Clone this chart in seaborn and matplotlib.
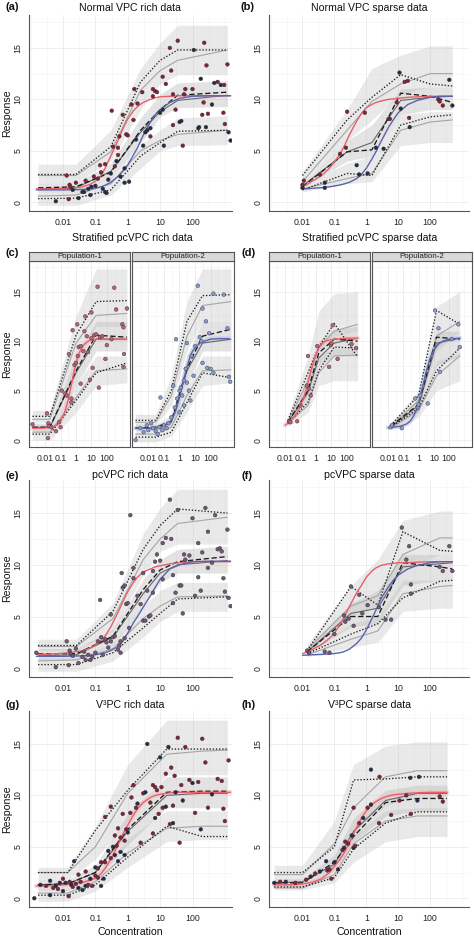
import numpy as np
import pandas as pd
import matplotlib.pyplot as plt
from matplotlib.ticker import NullFormatter
import seaborn as sns

# ------------------------
# Shared x grids for the model (population) curves
# ------------------------
RICH_CURVE_X = [0.0015, 0.003, 0.006, 0.01, 0.02, 0.04, 0.07, 0.1, 0.15, 0.2, 0.3, 0.5, 0.7,
                1, 1.5, 2, 3, 5, 7, 10, 20, 40, 100, 300, 1500]
SPARSE_CURVE_X = [0.01, 0.015, 0.02, 0.04, 0.07, 0.1, 0.15, 0.2, 0.3, 0.5, 0.7, 1, 1.5, 2, 3,
                  5, 7, 10, 20, 40, 100, 200, 500]
H_CURVE_X = [0.0013, 0.003, 0.006, 0.01, 0.02, 0.04, 0.07, 0.1, 0.15, 0.2, 0.3, 0.5, 0.7, 1,
             1.5, 2, 3, 5, 7, 10, 20, 40, 100, 340]

# ------------------------
# (a) Normal VPC rich data
# ------------------------
A_BIN = [0.0017, 0.025, 0.3, 2.5, 10, 35, 1200]
A_OBS = [[0.35, 0.4, 1.2, 4.5, 5.8, 6.9, 7.0],
         [1.4, 1.5, 2.9, 7.0, 9.0, 10.4, 10.7],
         [2.7, 2.7, 5.4, 11.7, 13.8, 14.8, 14.8]]
A_SIM = [[0.6, 0.7, 1.8, 5.0, 6.0, 6.6, 7.0],
         [1.3, 1.4, 3.0, 6.8, 8.8, 9.9, 10.4],
         [2.6, 2.6, 4.9, 10.9, 12.8, 13.8, 14.8]]
A_CI = [([-0.3, -0.3, 0.7, 3.3, 5.0, 5.5, 5.6], [0.9, 0.9, 2.2, 5.6, 7.0, 8.2, 8.4]),
        ([0.9, 0.9, 2.2, 5.8, 8.3, 9.2, 9.3], [1.9, 1.9, 3.8, 8.2, 10.5, 11.6, 11.8]),
        ([1.9, 1.9, 4.0, 9.0, 11.5, 12.4, 12.4], [3.7, 3.7, 7.0, 13.0, 15.5, 17.2, 17.2])]
A_RED = [1.3, 1.3, 1.3, 1.32, 1.38, 1.5, 1.75, 2.05, 2.6, 3.3, 4.5, 6.0, 7.1, 8.1, 8.9, 9.3,
         9.7, 10.0, 10.15, 10.25, 10.3, 10.35, 10.35, 10.35, 10.35]
A_BLUE = [1.2, 1.2, 1.2, 1.2, 1.22, 1.25, 1.3, 1.38, 1.5, 1.65, 1.95, 2.5, 3.0, 3.6, 4.6, 5.3,
          6.5, 7.8, 8.5, 9.0, 9.7, 10.1, 10.3, 10.35, 10.35]
A_POINTS = [
    (0.006, 0.1, 'n'), (0.013, 2.6, 'r'), (0.015, 0.3, 'r'), (0.016, 1.7, 'r'), (0.017, 1.5, 'r'),
    (0.02, 1.2, 'n'), (0.025, 1.9, 'r'), (0.03, 0.4, 'n'), (0.04, 1.0, 'n'), (0.045, 1.0, 'n'),
    (0.05, 2.1, 'r'), (0.06, 1.3, 'n'), (0.07, 0.7, 'n'), (0.075, 1.5, 'n'), (0.09, 2.5, 'r'),
    (0.1, 1.6, 'n'), (0.12, 2.3, 'r'), (0.14, 3.6, 'r'), (0.15, 2.9, 'r'), (0.17, 1.3, 'n'),
    (0.2, 3.7, 'r'), (0.2, 1.0, 'n'), (0.22, 0.9, 'n'), (0.25, 2.2, 'n'), (0.3, 2.8, 'n'),
    (0.32, 8.9, 'r'), (0.35, 5.4, 'r'), (0.4, 3.5, 'r'), (0.45, 4.0, 'n'), (0.5, 5.3, 'r'),
    (0.5, 4.6, 'r'), (0.55, 6.4, 'r'), (0.6, 2.5, 'n'), (0.7, 8.5, 'r'), (0.8, 1.9, 'n'),
    (0.8, 3.3, 'n'), (0.9, 6.6, 'r'), (1.0, 6.5, 'r'), (1.1, 2.0, 'n'), (1.3, 9.5, 'r'),
    (1.5, 8.0, 'r'), (1.6, 11.0, 'r'), (1.8, 6.1, 'n'), (2.0, 9.6, 'r'), (2.8, 10.7, 'r'),
    (3.0, 5.5, 'n'), (3.5, 6.8, 'n'), (4.0, 7.0, 'n'), (5.0, 6.4, 'r'), (5.0, 7.2, 'n'),
    (6.0, 11.0, 'r'), (6.0, 10.3, 'r'), (7.0, 10.8, 'r'), (8.0, 10.7, 'r'), (10, 8.7, 'n'),
    (12, 9.0, 'n'), (12, 12.2, 'r'), (13, 5.5, 'n'), (15, 11.5, 'r'), (20, 15.0, 'r'),
    (22, 12.8, 'r'), (25, 7.5, 'r'), (25, 10.5, 'r'), (30, 9.0, 'r'), (35, 15.7, 'r'),
    (40, 7.8, 'n'), (45, 7.9, 'n'), (50, 5.5, 'r'), (55, 10.5, 'r'), (60, 11.0, 'r'),
    (100, 11.0, 'r'), (110, 14.8, 'n'), (150, 7.2, 'n'), (160, 7.3, 'n'), (180, 12.0, 'n'),
    (200, 8.5, 'r'), (220, 9.7, 'r'), (230, 15.5, 'r'), (260, 7.3, 'n'), (270, 13.3, 'r'),
    (300, 8.6, 'r'), (400, 9.5, 'n'), (470, 11.6, 'n'), (600, 11.7, 'r'), (750, 11.4, 'n'),
    (950, 11.4, 'r'), (900, 8.7, 'r'), (1000, 7.6, 'r'), (1200, 13.4, 'r'), (1300, 6.8, 'n'),
    (1500, 6.0, 'n'),
]

# ------------------------
# (b) Normal VPC sparse data
# ------------------------
B_BIN = [0.01, 0.25, 1.5, 12, 100, 500]
B_OBS = [[1.2, 2.8, 2.6, 7.5, 8.3, 8.5],
         [1.5, 4.9, 5.1, 10.6, 10.3, 9.7],
         [2.6, 8.0, 10.2, 12.4, 11.5, 11.3]]
B_SIM = [[1.3, 2.3, 2.8, 7.0, 7.8, 8.0],
         [1.6, 4.9, 5.8, 9.9, 10.2, 10.3],
         [2.0, 7.0, 9.8, 11.5, 12.5, 12.5]]
B_CI = [([1.0, 1.8, 2.0, 5.5, 5.8, 5.8], [1.6, 3.8, 4.5, 8.5, 8.8, 8.8]),
        ([1.4, 4.0, 4.5, 8.5, 9.0, 9.0], [1.9, 6.0, 7.5, 11.0, 11.2, 11.2]),
        ([1.9, 6.0, 8.0, 10.5, 11.2, 11.2], [3.0, 9.0, 13.0, 14.3, 15.2, 15.2])]
B_RED = [1.5, 1.8, 2.05, 2.6, 3.3, 3.9, 4.7, 5.4, 6.6, 7.9, 8.6, 9.2, 9.5, 9.7, 9.85, 10.0,
         10.05, 10.1, 10.2, 10.25, 10.3, 10.3, 10.3]
B_BLUE = [1.3, 1.32, 1.35, 1.42, 1.5, 1.58, 1.68, 1.78, 1.95, 2.3, 2.7, 3.3, 4.2, 4.9, 6.0,
          7.3, 8.0, 8.7, 9.5, 9.9, 10.2, 10.3, 10.3]
B_POINTS = [
    (0.01, 1.7, 'r'), (0.01, 1.4, 'n'), (0.011, 2.1, 'r'), (0.035, 2.7, 'r'), (0.05, 1.9, 'n'),
    (0.05, 1.4, 'n'), (0.15, 4.7, 'r'), (0.23, 5.3, 'r'), (0.25, 8.8, 'r'), (0.5, 3.6, 'n'),
    (0.6, 2.7, 'n'), (0.9, 8.7, 'r'), (1.1, 2.8, 'n'), (2.0, 5.3, 'n'), (3.5, 5.2, 'n'),
    (5.0, 8.1, 'r'), (5.5, 8.1, 'r'), (9.0, 9.7, 'r'), (11, 12.6, 'n'), (12, 9.1, 'n'),
    (16, 11.7, 'r'), (20, 11.8, 'r'), (22, 8.2, 'r'), (23, 7.3, 'n'), (180, 10.0, 'r'),
    (200, 9.8, 'r'), (250, 9.4, 'r'), (400, 11.9, 'n'), (500, 9.4, 'n'),
]

# ------------------------
# (c) Stratified pcVPC rich data
# ------------------------
C1_BIN = [0.0015, 0.02, 1, 20, 2000]
C1_OBS = [[0.6, 0.6, 4.0, 6.8, 7.8],
          [1.3, 1.3, 7.0, 10.6, 10.4],
          [2.4, 2.4, 10.6, 14.0, 14.1]]
C1_SIM = [[0.8, 0.8, 4.3, 7.0, 7.2],
          [1.3, 1.3, 6.8, 10.2, 10.2],
          [2.1, 2.1, 9.8, 12.6, 12.8]]
C1_CI = [([0.0, 0.0, 2.8, 5.5, 5.8], [1.0, 1.0, 5.5, 8.5, 8.5]),
         ([0.9, 0.9, 5.5, 9.0, 9.0], [1.7, 1.7, 8.5, 12.0, 12.0]),
         ([1.8, 1.8, 7.5, 11.5, 11.5], [3.0, 3.0, 12.5, 17.3, 17.3])]
C1_RED = [1.2, 1.2, 1.2, 1.22, 1.28, 1.4, 1.65, 1.95, 2.5, 3.0, 4.0, 5.6, 6.7, 7.8, 8.7, 9.1,
          9.6, 9.9, 10.05, 10.1, 10.2, 10.2, 10.2, 10.2, 10.2]
C1_POINTS = [
    (0.0015, 1.6), (0.013, 2.7), (0.015, 0.2), (0.016, 1.7), (0.017, 1.4), (0.025, 1.3),
    (0.05, 0.9), (0.08, 1.8), (0.1, 1.3), (0.12, 5.0), (0.2, 4.7), (0.25, 4.5), (0.35, 8.7),
    (0.5, 4.2), (0.5, 3.8), (0.6, 11.1), (0.8, 7.6), (1.0, 7.8), (1.2, 11.7), (1.3, 8.5),
    (1.5, 9.4), (2.0, 5.7), (2.0, 9.5), (3.0, 9.0), (3.5, 11.0), (4.0, 12.5), (5.0, 10.5),
    (6.0, 8.9), (8.0, 6.1), (10, 12.9), (10, 10.3), (12, 7.3), (15, 10.6), (20, 10.7),
    (25, 15.5), (30, 5.3), (35, 10.4), (50, 10.5), (80, 8.2), (100, 9.6), (300, 15.4),
    (400, 13.2), (200, 10.2), (1000, 11.7), (1200, 11.4), (1300, 8.7), (1200, 7.4), (2000, 13.3),
]
C2_BIN = [0.0015, 0.03, 0.3, 3, 30, 2000]
C2_OBS = [[0.3, 0.3, 0.8, 3.8, 6.8, 6.3],
          [1.2, 1.3, 1.9, 7.2, 10.5, 11.2],
          [2.0, 2.0, 5.0, 12.0, 14.6, 14.7]]
C2_SIM = [[0.6, 0.6, 1.3, 4.5, 7.0, 7.1],
          [1.2, 1.2, 1.8, 7.0, 9.8, 10.2],
          [1.8, 1.8, 4.5, 10.5, 13.6, 14.0]]
C2_CI = [([-0.2, -0.2, 0.4, 2.8, 5.5, 5.8], [0.9, 0.9, 1.6, 5.5, 8.5, 8.5]),
         ([0.9, 0.9, 1.4, 5.5, 9.0, 9.0], [1.6, 1.6, 2.5, 8.5, 12.0, 12.0]),
         ([1.5, 1.5, 3.5, 9.0, 12.0, 12.0], [2.6, 2.6, 6.5, 14.0, 17.3, 17.3])]
C2_BLUE = [1.2, 1.2, 1.2, 1.2, 1.22, 1.27, 1.33, 1.4, 1.55, 1.7, 2.0, 2.7, 3.4, 4.3, 5.5, 6.3,
           7.4, 8.5, 9.0, 9.3, 9.8, 10.0, 10.2, 10.25, 10.25]
C2_POINTS = [
    (0.0015, 0.0), (0.003, 1.2), (0.005, 0.8), (0.008, 1.5), (0.01, 1.0), (0.015, 1.7),
    (0.02, 1.2), (0.03, 0.9), (0.04, 0.6), (0.05, 1.3), (0.06, 4.3), (0.08, 1.0), (0.1, 1.5),
    (0.15, 1.2), (0.2, 1.7), (0.3, 2.3), (0.4, 5.5), (0.5, 3.3), (0.6, 10.2), (0.7, 4.2),
    (1.0, 2.8), (1.0, 5.0), (1.2, 5.3), (1.5, 4.5), (2.0, 3.5), (2.0, 6.0), (2.5, 7.2),
    (3.0, 9.8), (3.0, 5.8), (4.0, 5.0), (5.0, 4.0), (6.0, 8.5), (8.0, 6.5), (10, 9.5),
    (15, 15.6), (20, 10.4), (25, 10.0), (30, 7.8), (30, 13.3), (50, 12.0), (60, 7.3),
    (80, 10.8), (100, 7.2), (150, 14.8), (150, 6.8), (700, 14.7), (1200, 11.3), (1500, 6.4),
    (1800, 5.9),
]

# ------------------------
# (d) Stratified pcVPC sparse data
# ------------------------
D1_BIN = [0.015, 0.3, 1.5, 15, 500]
D1_OBS = [[1.7, 3.8, 7.0, 9.4, 9.3],
          [1.8, 5.0, 8.8, 10.2, 10.0],
          [2.0, 6.8, 9.4, 11.8, 8.4]]
D1_SIM = [[1.7, 3.5, 6.8, 8.5, 8.6],
          [1.8, 4.8, 8.3, 9.8, 10.3],
          [1.9, 6.0, 9.3, 11.0, 11.7]]
D1_CI = [([1.4, 2.8, 5.5, 6.0, 6.0], [1.8, 4.8, 8.5, 9.3, 9.3]),
         ([1.6, 4.0, 7.5, 8.5, 8.5], [2.0, 6.0, 10.0, 11.2, 11.5]),
         ([1.8, 5.0, 9.0, 10.5, 11.0], [2.4, 8.5, 13.0, 14.8, 15.0])]
D1_RED = [1.5, 1.7, 1.9, 2.4, 3.0, 3.5, 4.2, 4.8, 5.8, 7.2, 8.0, 8.7, 9.3, 9.6, 9.9, 10.05,
          10.1, 10.15, 10.2, 10.25, 10.3, 10.3, 10.3]
D1_POINTS = [
    (0.018, 1.9), (0.022, 1.8), (0.06, 1.9), (0.1, 3.5), (0.25, 5.5), (0.3, 8.5), (0.35, 5.2),
    (0.45, 4.5), (1.2, 9.5), (7, 7.4), (9, 9.6), (10, 9.8), (12, 11.6), (25, 8.2), (200, 9.7),
    (400, 9.3),
]
D2_BIN = [0.015, 1, 15, 500]
D2_OBS = [[1.3, 3.2, 7.0, 9.3],
          [1.4, 3.6, 10.4, 10.2],
          [1.5, 4.5, 13.1, 11.7]]
D2_SIM = [[1.2, 3.0, 6.5, 8.5],
          [1.3, 3.5, 9.8, 10.3],
          [1.4, 4.0, 10.5, 12.0]]
D2_CI = [([1.1, 2.3, 5.0, 6.0], [1.4, 3.5, 8.0, 8.8]),
         ([1.2, 2.8, 7.5, 8.5], [1.5, 4.2, 11.0, 11.0]),
         ([1.3, 3.5, 9.0, 11.0], [1.7, 5.0, 13.5, 15.0])]
D2_BLUE = [1.25, 1.28, 1.3, 1.35, 1.42, 1.5, 1.6, 1.72, 1.95, 2.5, 3.0, 3.7, 4.8, 5.6, 6.8,
           8.0, 8.6, 9.1, 9.7, 10.0, 10.2, 10.25, 10.3]
D2_POINTS = [
    (0.015, 1.3), (0.018, 1.5), (0.08, 1.2), (0.6, 4.2), (0.9, 3.3), (1.0, 3.6), (1.3, 4.5),
    (4, 3.7), (12, 13.1), (20, 11.3), (25, 6.9), (150, 10.2), (400, 11.7), (500, 9.4),
]

# ------------------------
# (e) pcVPC rich data
# ------------------------
E_BIN = [0.0017, 0.026, 0.35, 3.0, 10, 35, 1200]
E_OBS = [[0.35, 0.35, 1.5, 3.9, 5.3, 6.7, 6.9],
         [1.4, 1.4, 3.1, 7.6, 9.5, 10.3, 10.8],
         [2.2, 2.2, 5.5, 11.5, 13.8, 15.4, 15.0]]
E_SIM = [[0.7, 0.8, 1.9, 4.8, 6.0, 6.9, 7.0],
         [1.2, 1.3, 3.0, 7.2, 9.2, 10.0, 10.4],
         [2.1, 2.1, 4.8, 10.5, 12.5, 14.0, 14.6]]
E_CI = [([-0.3, -0.3, 0.7, 3.0, 4.5, 5.5, 5.5], [1.0, 1.0, 2.4, 6.0, 7.5, 8.3, 8.3]),
        ([0.8, 0.8, 2.2, 6.0, 8.3, 9.2, 9.2], [1.9, 1.9, 3.8, 8.6, 10.5, 11.5, 11.8]),
        ([1.7, 1.7, 3.6, 9.0, 11.3, 12.0, 12.0], [2.8, 2.8, 6.3, 13.0, 15.5, 17.3, 17.3])]
E_RED = [1.35, 1.35, 1.4, 1.45, 1.55, 1.7, 1.95, 2.25, 2.7, 3.1, 4.0, 5.4, 6.4, 7.4, 8.3, 8.8,
         9.3, 9.6, 9.8, 9.9, 10.1, 10.2, 10.3, 10.3, 10.3]
E_BLUE = [1.15, 1.15, 1.15, 1.15, 1.17, 1.2, 1.25, 1.3, 1.4, 1.5, 1.7, 2.1, 2.6, 3.4, 4.4, 5.0,
          5.9, 7.0, 7.8, 8.6, 9.6, 10.0, 10.3, 10.35, 10.35]
E_POINTS = [
    (0.0015, 1.5), (0.006, 0.1), (0.013, 2.6), (0.015, 0.3), (0.016, 1.7), (0.017, 1.4),
    (0.02, 1.2), (0.025, 1.9), (0.03, 0.5), (0.04, 1.1), (0.045, 1.6), (0.05, 0.8), (0.06, 1.3),
    (0.07, 0.8), (0.08, 1.1), (0.1, 1.5), (0.12, 2.6), (0.14, 6.6), (0.15, 3.0), (0.17, 1.3),
    (0.2, 2.8), (0.22, 2.5), (0.25, 2.0), (0.3, 2.6), (0.3, 5.2), (0.35, 3.0), (0.4, 3.1),
    (0.5, 1.8), (0.55, 2.2), (0.6, 1.5), (0.6, 2.6), (0.65, 9.2), (0.7, 7.8), (0.8, 8.0),
    (0.8, 2.9), (0.9, 6.2), (1.0, 6.3), (1.1, 3.9), (1.2, 14.8), (1.5, 9.7), (1.5, 8.7),
    (2.0, 7.0), (2.5, 6.2), (3.0, 4.6), (3.0, 9.2), (3.5, 4.6), (4.0, 7.5), (4.5, 5.0),
    (5.0, 5.1), (6.0, 9.4), (6.0, 7.3), (7.0, 10.3), (8.0, 11.0), (10, 10.4), (12, 12.1),
    (12, 8.6), (15, 12.6), (20, 16.3), (22, 12.5), (25, 9.0), (25, 6.3), (30, 7.3), (35, 15.3),
    (40, 8.0), (45, 8.0), (50, 5.3), (55, 11.0), (60, 10.5), (80, 10.9), (100, 14.5),
    (120, 7.0), (150, 8.8), (150, 12.1), (180, 7.5), (200, 11.2), (250, 15.5), (300, 13.2),
    (300, 9.7), (400, 10.2), (500, 14.8), (600, 11.5), (700, 11.6), (800, 11.3), (900, 8.7),
    (1000, 7.4), (1200, 13.4), (1300, 6.8), (1500, 6.0),
]

# ------------------------
# (f) pcVPC sparse data
# ------------------------
F_BIN = [0.014, 0.33, 2.3, 14, 200, 500]
F_OBS = [[1.4, 3.3, 4.3, 6.8, 8.4, 8.5],
         [1.6, 5.0, 5.0, 10.2, 9.8, 9.6],
         [1.7, 7.9, 6.1, 13.2, 11.4, 11.3]]
F_SIM = [[1.3, 2.8, 3.6, 7.2, 7.9, 8.0],
         [1.6, 5.3, 5.8, 9.8, 10.1, 10.2],
         [1.8, 6.0, 7.0, 11.0, 12.6, 12.6]]
F_CI = [([1.1, 2.0, 2.5, 5.5, 5.8, 5.8], [1.6, 4.3, 5.0, 8.5, 8.5, 8.5]),
        ([1.4, 4.0, 4.3, 8.0, 8.5, 8.5], [1.9, 6.3, 7.5, 11.0, 11.0, 11.0]),
        ([1.5, 5.0, 6.0, 9.5, 11.0, 11.0], [2.3, 8.0, 10.5, 14.3, 15.2, 15.2])]
F_RED = [1.4, 1.6, 1.8, 2.3, 2.9, 3.4, 4.2, 4.9, 6.0, 7.3, 8.0, 8.8, 9.4, 9.7, 9.95, 10.1,
         10.15, 10.2, 10.2, 10.25, 10.3, 10.3, 10.3]
F_BLUE = [1.25, 1.27, 1.3, 1.33, 1.38, 1.42, 1.5, 1.6, 1.85, 2.4, 2.9, 3.7, 4.8, 5.6, 6.8,
          7.9, 8.5, 9.0, 9.6, 9.95, 10.2, 10.3, 10.3]
F_POINTS = [
    (0.014, 1.7), (0.016, 1.5), (0.05, 1.6), (0.07, 1.5), (0.1, 3.3), (0.2, 5.1), (0.22, 4.5),
    (0.28, 4.8), (0.33, 7.9), (0.4, 4.1), (0.6, 7.1), (0.75, 5.3), (1.1, 6.1), (2.5, 5.9),
    (4.0, 4.7), (6.0, 4.7), (13, 13.6), (18, 10.5), (22, 11.8), (25, 8.1), (25, 7.2),
    (200, 9.8), (250, 9.4), (400, 11.8), (500, 9.4),
]

# ------------------------
# (g) V3PC rich data
# ------------------------
G_BIN = [0.0017, 0.014, 0.1, 1, 16, 200, 1200]
G_OBS = [[0.3, 0.3, 1.3, 4.0, 7.0, 6.0, 6.0],
         [1.3, 1.4, 2.5, 6.7, 10.3, 10.4, 10.4],
         [2.5, 2.5, 6.6, 10.5, 14.5, 14.5, 14.5]]
G_SIM = [[0.5, 0.5, 1.6, 4.4, 6.8, 7.0, 7.0],
         [1.3, 1.4, 2.5, 6.5, 10.0, 10.2, 10.2],
         [2.5, 2.5, 5.0, 10.2, 14.0, 14.3, 14.4]]
G_CI = [([-0.3, -0.3, 0.7, 3.0, 5.5, 5.7, 5.7], [0.9, 0.9, 2.0, 5.8, 8.5, 8.5, 8.5]),
        ([0.8, 0.8, 1.8, 5.2, 8.8, 8.8, 8.8], [1.8, 1.8, 3.2, 8.2, 11.8, 11.8, 11.8]),
        ([1.8, 1.8, 3.8, 7.5, 12.0, 12.0, 12.0], [3.0, 3.0, 7.0, 13.0, 17.3, 17.3, 17.3])]
G_RED = [1.2, 1.2, 1.25, 1.3, 1.4, 1.55, 1.75, 1.95, 2.4, 2.9, 3.8, 5.2, 6.2, 7.1, 8.1, 8.7,
         9.3, 9.8, 10.0, 10.1, 10.25, 10.3, 10.3, 10.3, 10.3]
G_POINTS = [
    (0.0013, 0.0, 'n'), (0.002, 1.3, 'n'), (0.003, 1.2, 'r'), (0.004, 0.3, 'n'), (0.004, 1.7, 'n'),
    (0.005, 1.0, 'r'), (0.006, 1.2, 'n'), (0.007, 0.9, 'r'), (0.008, 1.5, 'n'), (0.01, 0.7, 'n'),
    (0.01, 1.9, 'r'), (0.012, 1.5, 'n'), (0.015, 0.2, 'r'), (0.016, 1.6, 'r'), (0.018, 1.3, 'n'),
    (0.02, 1.1, 'r'), (0.022, 3.6, 'n'), (0.025, 1.4, 'r'), (0.03, 2.3, 'r'), (0.03, 1.0, 'n'),
    (0.035, 1.6, 'r'), (0.04, 0.8, 'n'), (0.05, 2.6, 'r'), (0.05, 1.2, 'n'), (0.06, 1.3, 'r'),
    (0.07, 1.9, 'n'), (0.08, 1.2, 'r'), (0.1, 2.2, 'r'), (0.1, 3.0, 'n'), (0.12, 2.0, 'r'),
    (0.12, 2.9, 'r'), (0.15, 3.5, 'r'), (0.15, 1.2, 'n'), (0.18, 1.9, 'n'), (0.2, 3.5, 'r'),
    (0.2, 7.9, 'r'), (0.25, 4.6, 'n'), (0.3, 8.9, 'r'), (0.3, 3.9, 'r'), (0.35, 5.0, 'n'),
    (0.4, 6.1, 'r'), (0.4, 4.2, 'n'), (0.45, 5.1, 'r'), (0.5, 6.8, 'r'), (0.5, 3.6, 'n'),
    (0.6, 5.9, 'r'), (0.6, 4.5, 'n'), (0.7, 8.2, 'r'), (0.8, 5.6, 'r'), (0.8, 4.2, 'n'),
    (0.9, 6.7, 'r'), (1.0, 6.4, 'n'), (1.2, 8.3, 'r'), (1.3, 9.8, 'r'), (1.5, 11.0, 'r'),
    (1.8, 8.8, 'r'), (2.0, 9.2, 'n'), (2.5, 5.4, 'r'), (3.0, 10.2, 'r'), (3.5, 10.3, 'n'),
    (4.0, 15.0, 'n'), (5.0, 9.3, 'r'), (6.0, 6.3, 'r'), (6.0, 11.0, 'r'), (7.0, 10.8, 'r'),
    (7.0, 7.8, 'n'), (8.0, 10.5, 'r'), (9.0, 8.2, 'r'), (10, 13.7, 'n'), (11, 10.8, 'r'),
    (12, 8.8, 'r'), (15, 12.1, 'r'), (15, 8.9, 'n'), (18, 14.7, 'n'), (20, 7.2, 'r'),
    (22, 12.7, 'r'), (25, 9.0, 'r'), (25, 7.3, 'n'), (28, 11.9, 'r'), (30, 10.3, 'n'),
    (35, 15.6, 'r'), (40, 5.4, 'r'), (45, 11.0, 'r'), (50, 9.5, 'n'), (60, 14.7, 'r'),
    (80, 11.5, 'r'), (100, 11.2, 'n'), (120, 8.3, 'r'), (150, 11.3, 'r'), (180, 6.7, 'n'),
    (200, 15.5, 'r'), (250, 13.2, 'r'), (300, 8.8, 'r'), (400, 10.1, 'n'), (600, 11.6, 'r'),
    (800, 11.4, 'r'), (900, 8.7, 'r'), (1000, 7.5, 'r'), (1300, 13.4, 'r'),
]

# ------------------------
# (h) V3PC sparse data
# ------------------------
H_BIN = [0.0013, 0.01, 0.1, 0.4, 4, 40, 340]
H_OBS = [[1.1, 1.1, 2.0, 4.8, 7.3, 8.4, 8.4],
         [1.5, 1.5, 3.5, 6.0, 9.3, 9.7, 9.7],
         [2.5, 2.5, 5.0, 11.5, 11.6, 11.8, 11.8]]
H_SIM = [[1.0, 1.0, 2.3, 5.3, 7.5, 8.0, 8.0],
         [1.5, 1.6, 3.3, 6.5, 9.5, 10.2, 10.2],
         [2.3, 2.3, 5.3, 8.8, 11.8, 12.4, 12.4]]
H_CI = [([0.8, 0.8, 1.5, 3.5, 5.5, 6.0, 6.0], [1.4, 1.4, 2.8, 6.2, 8.5, 8.8, 8.8]),
        ([1.2, 1.2, 2.7, 5.5, 8.0, 8.5, 8.5], [1.9, 1.9, 4.2, 7.8, 10.5, 11.0, 11.0]),
        ([1.5, 1.5, 3.0, 6.5, 9.0, 10.0, 10.0], [3.2, 3.2, 7.5, 13.0, 14.8, 15.2, 15.2])]
H_RED = [1.3, 1.3, 1.32, 1.38, 1.55, 1.9, 2.5, 3.1, 3.8, 4.4, 5.4, 6.9, 7.8, 8.5, 9.1, 9.4,
         9.7, 9.95, 10.05, 10.1, 10.2, 10.25, 10.3, 10.3]
H_POINTS = [
    (0.0013, 1.5, 'n'), (0.002, 1.6, 'r'), (0.003, 1.6, 'n'), (0.006, 1.5, 'r'), (0.013, 1.8, 'r'),
    (0.018, 2.1, 'n'), (0.025, 2.4, 'r'), (0.035, 2.6, 'n'), (0.055, 3.6, 'n'), (0.06, 2.7, 'r'),
    (0.07, 2.8, 'r'), (0.08, 1.9, 'r'), (0.1, 3.5, 'n'), (0.13, 2.8, 'n'), (0.18, 4.7, 'r'),
    (0.2, 4.9, 'n'), (0.22, 5.5, 'r'), (0.27, 5.3, 'r'), (0.4, 8.8, 'r'), (0.35, 6.1, 'n'),
    (0.4, 4.9, 'n'), (0.45, 5.1, 'r'), (0.6, 7.3, 'r'), (0.8, 7.8, 'n'), (1.1, 8.8, 'r'),
    (1.4, 12.5, 'n'), (1.4, 9.1, 'n'), (2.6, 11.8, 'r'), (2.5, 7.3, 'r'), (6, 8.1, 'r'),
    (11, 9.5, 'r'), (18, 10.0, 'r'), (24, 11.7, 'n'), (25, 8.2, 'r'), (45, 11.8, 'n'),
    (40, 9.5, 'n'), (200, 9.9, 'r'), (250, 9.4, 'r'),
]

# ------------------------
# Style
# ------------------------
sns.set_theme(style="white")
FONT = ['Liberation Sans Narrow', 'Liberation Sans', 'DejaVu Sans']
plt.rcParams['font.family'] = FONT

RED_LINE = '#e6606a'
BLUE_LINE = '#5a63ad'
RED_PT = '#8a1d3c'
NAVY_PT = '#1f2a4e'
XTICKS = [0.01, 0.1, 1, 10, 100]
XTICK_LABELS = ['0.01', '0.1', '1', '10', '100']
XGRID_MINOR = [10 ** (k / 2) for k in range(-6, 7)]
YLIM = (-0.85, 18.2)
YLIM_STRAT = (-0.7, 18.1)
XLIM = (10 ** -3.05, 10 ** 3.22)
XLIM_STRAT = (10 ** -3.05, 10 ** 3.5)
TICK_SIZE = 6.3
TITLE_SIZE = 7.6
LABEL_SIZE = 7.6

W, H = 474, 940
fig = plt.figure(figsize=(W / 100, H / 100), dpi=100)


def add_ax(l, t, r, b):
    return fig.add_axes([l / W, 1 - b / H, (r - l) / W, (b - t) / H])


def style_ax(ax, xlim, ylim, box=False, ylabels=True):
    ax.set_xscale('log')
    ax.set_xticks(XTICKS)
    ax.set_xticklabels(XTICK_LABELS)
    ax.set_xticks(XGRID_MINOR, minor=True)
    ax.xaxis.set_minor_formatter(NullFormatter())
    ax.set_yticks([0, 5, 10, 15])
    if ylabels:
        ax.set_yticklabels(['0', '5', '10', '15'], rotation=90, va='center')
    else:
        ax.set_yticklabels([])
    ax.set_yticks([2.5, 7.5, 12.5, 17.5], minor=True)
    # limits last: setting ticks can widen the view
    ax.set_xlim(xlim)
    ax.set_ylim(ylim)
    ax.tick_params(which='minor', length=0)
    ax.tick_params(which='major', length=3, width=0.6, color='#444444', labelsize=TICK_SIZE,
                   pad=2, labelcolor='#222222')
    ax.tick_params(axis='y', pad=1.5)
    if not ylabels:
        ax.tick_params(axis='y', length=0)
    ax.grid(which='major', color='#ebebeb', lw=0.6)
    ax.grid(which='minor', color='#f4f4f4', lw=0.5)
    ax.set_axisbelow(True)
    for side, sp in ax.spines.items():
        sp.set_color('#555555')
        sp.set_linewidth(0.8)
        if not box and side in ('top', 'right'):
            sp.set_visible(False)
    ax.set_xlabel('')
    ax.set_ylabel('')


def draw_vpc(ax, bins, ci, obs, sim):
    for (lo, hi), a in zip(ci, [0.32, 0.42, 0.32]):
        ax.fill_between(bins, lo, hi, color='#bdbdbd', alpha=a, lw=0, zorder=1)
    for vals, col in zip(sim, ['#a5a5a5', '#666666', '#a5a5a5']):
        sns.lineplot(x=bins, y=vals, ax=ax, color=col, lw=0.8, estimator=None, sort=False,
                     zorder=3)
    for vals, ls in zip(obs, [(0, (1, 1.4)), (0, (4, 2)), (0, (1, 1.4))]):
        sns.lineplot(x=bins, y=vals, ax=ax, color='#1a1a1a', lw=0.95, linestyle=ls,
                     estimator=None, sort=False, zorder=4)


def draw_curve(ax, xs, ys, color, halo=None):
    if halo:
        sns.lineplot(x=xs, y=ys, ax=ax, color=halo, lw=3.5, alpha=0.6, estimator=None,
                     sort=False, zorder=2)
    sns.lineplot(x=xs, y=ys, ax=ax, color=color, lw=1.0, estimator=None, sort=False, zorder=5)


def draw_points(ax, pts, palette, edge='#333333'):
    df = pd.DataFrame(pts, columns=['x', 'y', 'g'][:len(pts[0])])
    if 'g' not in df:
        df['g'] = 'p'
    sns.scatterplot(data=df, x='x', y='y', hue='g', palette=palette, s=7, edgecolor=edge,
                    linewidth=0.35, legend=False, ax=ax, zorder=6)


def strip(l, r, text):
    sax = add_ax(l, 252, r, 261)
    sax.set_facecolor('#d9d9d9')
    sax.set_xticks([])
    sax.set_yticks([])
    for sp in sax.spines.values():
        sp.set_color('#555555')
        sp.set_linewidth(0.8)
    sax.text(0.5, 0.45, text, ha='center', va='center', fontsize=5.8, color='#222222',
             transform=sax.transAxes)


def fig_text(x, y, s, **kw):
    fig.text(x / W, 1 - y / H, s, **kw)


PAL = {'r': RED_PT, 'n': NAVY_PT}

# ---- (a)
ax = add_ax(29, 15, 232, 211)
draw_vpc(ax, A_BIN, A_CI, A_OBS, A_SIM)
draw_curve(ax, RICH_CURVE_X, A_RED, RED_LINE)
draw_curve(ax, RICH_CURVE_X, A_BLUE, BLUE_LINE)
draw_points(ax, A_POINTS, PAL)
style_ax(ax, XLIM, YLIM)

# ---- (b)
ax = add_ax(269, 15, 469, 211)
draw_vpc(ax, B_BIN, B_CI, B_OBS, B_SIM)
draw_curve(ax, SPARSE_CURVE_X, B_RED, RED_LINE)
draw_curve(ax, SPARSE_CURVE_X, B_BLUE, BLUE_LINE)
draw_points(ax, B_POINTS, PAL)
style_ax(ax, XLIM, YLIM)

# ---- (c)
ax = add_ax(29, 261, 130, 447)
draw_vpc(ax, C1_BIN, C1_CI, C1_OBS, C1_SIM)
draw_curve(ax, RICH_CURVE_X, C1_RED, RED_LINE, halo='#f3c2c7')
draw_points(ax, C1_POINTS, {'p': '#a96b7c'}, edge='#5a2a3a')
style_ax(ax, XLIM_STRAT, YLIM_STRAT, box=True)
ax = add_ax(132, 261, 234, 447)
draw_vpc(ax, C2_BIN, C2_CI, C2_OBS, C2_SIM)
draw_curve(ax, RICH_CURVE_X, C2_BLUE, BLUE_LINE, halo='#c4cae4')
draw_points(ax, C2_POINTS, {'p': '#8b9dc1'}, edge='#39456a')
style_ax(ax, XLIM_STRAT, YLIM_STRAT, box=True, ylabels=False)
strip(29, 130, 'Population-1')
strip(132, 234, 'Population-2')

# ---- (d)
ax = add_ax(269, 261, 370, 447)
draw_vpc(ax, D1_BIN, D1_CI, D1_OBS, D1_SIM)
draw_curve(ax, SPARSE_CURVE_X, D1_RED, RED_LINE, halo='#f3c2c7')
draw_points(ax, D1_POINTS, {'p': '#a96b7c'}, edge='#5a2a3a')
style_ax(ax, XLIM_STRAT, YLIM_STRAT, box=True)
ax = add_ax(372, 261, 472, 447)
draw_vpc(ax, D2_BIN, D2_CI, D2_OBS, D2_SIM)
draw_curve(ax, SPARSE_CURVE_X, D2_BLUE, BLUE_LINE, halo='#c4cae4')
draw_points(ax, D2_POINTS, {'p': '#8b9dc1'}, edge='#39456a')
style_ax(ax, XLIM_STRAT, YLIM_STRAT, box=True, ylabels=False)
strip(269, 370, 'Population-1')
strip(372, 472, 'Population-2')

# ---- (e)
ax = add_ax(29, 480, 232, 677)
draw_vpc(ax, E_BIN, E_CI, E_OBS, E_SIM)
draw_curve(ax, RICH_CURVE_X, E_RED, RED_LINE)
draw_curve(ax, RICH_CURVE_X, E_BLUE, BLUE_LINE)
draw_points(ax, E_POINTS, {'p': '#6e5b73'}, edge='#3a2d40')
style_ax(ax, XLIM, YLIM)

# ---- (f)
ax = add_ax(269, 480, 469, 677)
draw_vpc(ax, F_BIN, F_CI, F_OBS, F_SIM)
draw_curve(ax, SPARSE_CURVE_X, F_RED, RED_LINE)
draw_curve(ax, SPARSE_CURVE_X, F_BLUE, BLUE_LINE)
draw_points(ax, F_POINTS, {'p': '#6e5b73'}, edge='#3a2d40')
style_ax(ax, XLIM, YLIM)

# ---- (g)
ax = add_ax(29, 711, 232, 907)
draw_vpc(ax, G_BIN, G_CI, G_OBS, G_SIM)
draw_curve(ax, RICH_CURVE_X, G_RED, RED_LINE, halo='#f3c2c7')
draw_points(ax, G_POINTS, PAL)
style_ax(ax, XLIM, YLIM)

# ---- (h)
ax = add_ax(269, 711, 469, 907)
draw_vpc(ax, H_BIN, H_CI, H_OBS, H_SIM)
draw_curve(ax, H_CURVE_X, H_RED, RED_LINE, halo='#f3c2c7')
draw_points(ax, H_POINTS, PAL)
style_ax(ax, XLIM, YLIM)

# ------------------------
# Titles, panel letters, axis labels
# ------------------------
titles = [(130, 8, 'Normal VPC rich data'), (369, 8, 'Normal VPC sparse data'),
          (132, 238, 'Stratified pcVPC rich data'), (370, 238, 'Stratified pcVPC sparse data'),
          (130, 475, 'pcVPC rich data'), (369, 475, 'pcVPC sparse data'),
          (130, 705, 'V³PC rich data'), (369, 705, 'V³PC sparse data')]
for x, y, s in titles:
    fig_text(x, y, s, ha='center', va='center', fontsize=TITLE_SIZE, color='#111111')

letters = [(5, 7, '(a)'), (240, 7, '(b)'), (5, 253, '(c)'), (241, 253, '(d)'),
           (5, 476, '(e)'), (241, 476, '(f)'), (5, 705, '(g)'), (241, 705, '(h)')]
for x, y, s in letters:
    fig_text(x, y, s, ha='left', va='center', fontsize=8, fontweight='bold', color='#111111')

for yc in [113, 354, 578, 809]:
    fig_text(7, yc, 'Response', ha='center', va='center', rotation=90, fontsize=LABEL_SIZE,
             color='#111111')
for xc in [130, 369]:
    fig_text(xc, 932, 'Concentration', ha='center', va='center', fontsize=LABEL_SIZE,
             color='#111111')

fig.savefig('out.png', dpi=100, facecolor='white')
